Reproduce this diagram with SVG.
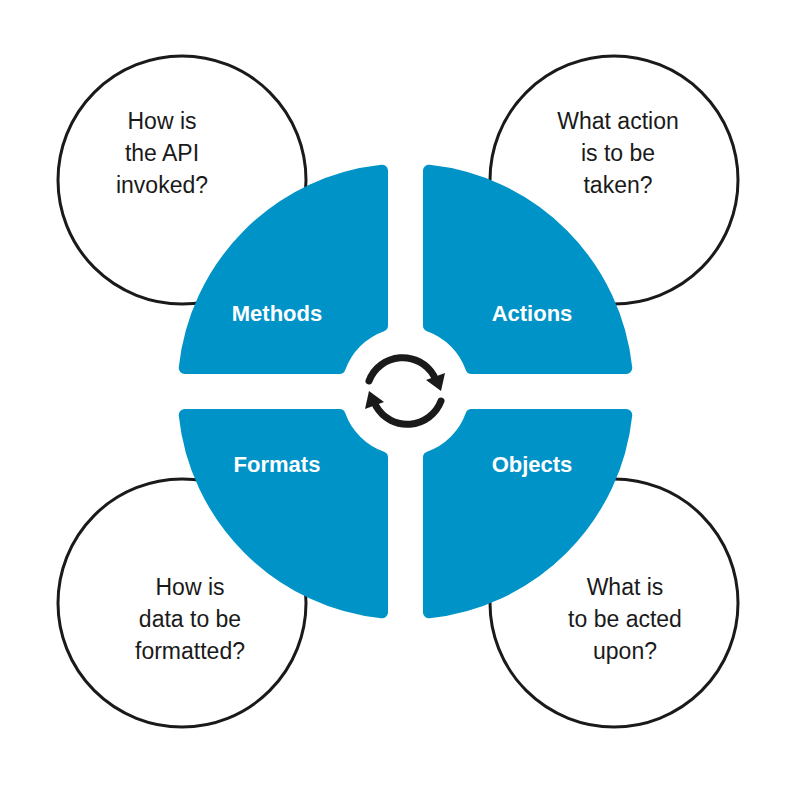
<svg xmlns="http://www.w3.org/2000/svg" width="800" height="800" viewBox="0 0 800 800">
<style>
.q{fill:#0093C7;stroke:#0093C7;stroke-width:12;stroke-linejoin:round}
.c{fill:#fff;stroke:#1a1a1a;stroke-width:3}
.t{font-family:"Liberation Sans",Arial,sans-serif;font-size:23px;fill:#1a1a1a;text-anchor:middle}
.l{font-family:"Liberation Sans",Arial,sans-serif;font-size:22px;font-weight:bold;fill:#fff;text-anchor:middle}
</style>
<defs><path id="qp" d="M -220.75,-23.5 A222 222 0 0 1 -23.5,-220.75 L -23.5,-65.94 A70 70 0 0 0 -65.94,-23.5 Z"/></defs>
<rect width="800" height="800" fill="#fff"/>
<g id="q1-circle"><circle class="c" cx="182" cy="180" r="124"/><text class="t"><tspan x="162" y="129">How is</tspan><tspan x="162" y="161">the API</tspan><tspan x="162" y="193">invoked?</tspan></text></g>
<g id="q2-circle"><circle class="c" cx="614" cy="180" r="124"/><text class="t"><tspan x="618" y="129">What action</tspan><tspan x="618" y="161">is to be</tspan><tspan x="618" y="193">taken?</tspan></text></g>
<g id="q3-circle"><circle class="c" cx="182" cy="603" r="124"/><text class="t"><tspan x="190" y="595">How is</tspan><tspan x="190" y="627">data to be</tspan><tspan x="190" y="659">formatted?</tspan></text></g>
<g id="q4-circle"><circle class="c" cx="614" cy="603" r="124"/><text class="t"><tspan x="625" y="595">What is</tspan><tspan x="625" y="627">to be acted</tspan><tspan x="625" y="659">upon?</tspan></text></g>
<g id="methods"><use href="#qp" class="q" transform="translate(405.5,391.5)"/><text class="l" x="277" y="321">Methods</text></g>
<g id="actions"><use href="#qp" class="q" transform="translate(405.5,391.5) scale(-1,1)"/><text class="l" x="532" y="321">Actions</text></g>
<g id="formats"><use href="#qp" class="q" transform="translate(405.5,391.5) scale(1,-1)"/><text class="l" x="277" y="472">Formats</text></g>
<g id="objects"><use href="#qp" class="q" transform="translate(405.5,391.5) scale(-1,-1)"/><text class="l" x="532" y="472">Objects</text></g>
<g id="connectors" fill="none" stroke="#1a1a1a" stroke-width="7" stroke-linecap="round">
<path d="M 369,381 A 36 36 0 0 1 434,376"/>
<polygon points="426,380 445,373 441,391" fill="#1a1a1a" stroke="none"/>
<path d="M 441,401 A 36 36 0 0 1 376,406"/>
<polygon points="384,402 365,409 369,391" fill="#1a1a1a" stroke="none"/>
</g>
</svg>
